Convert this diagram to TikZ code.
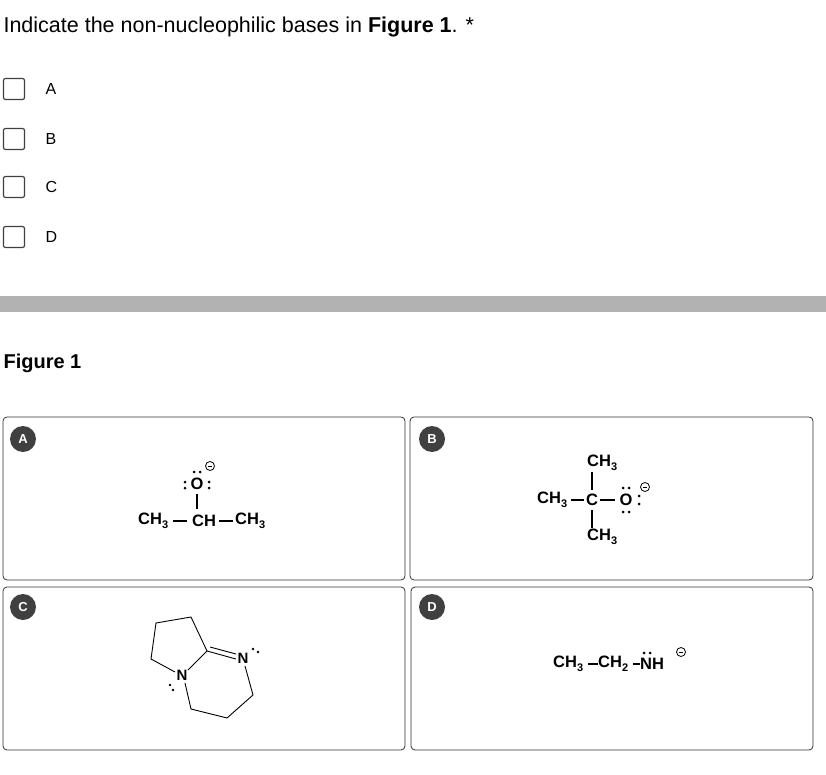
\documentclass[tikz,border=0pt]{standalone}
\usepackage{fontspec}
\setmainfont{Liberation Sans}
\usetikzlibrary{calc}
\newcommand\mysub[1]{\raisebox{-0.45ex}{\fontsize{11}{11}\selectfont #1}}
\begin{document}
\begin{tikzpicture}[x=1pt,y=-1pt,
  panel/.style={draw=black!80,line width=0.8pt,rounded corners=4pt},
  badge/.style={circle,fill=black!75,text=white,inner sep=0pt,minimum size=26pt,font=\fontsize{13}{13}\selectfont\bfseries},
  cbox/.style={draw=black!75,line width=1.2pt,rounded corners=2pt,minimum size=21pt,inner sep=0pt},
  opt/.style={font=\fontsize{16}{16}\selectfont,anchor=west},
  atm/.style={font=\fontsize{16.5}{16.5}\selectfont\bfseries,inner sep=0pt},
  bond/.style={line width=1.1pt},
  dot/.style={fill=black,circle,inner sep=0pt,minimum size=3pt},
  neg/.style={circle,draw,line width=0.8pt,minimum size=9pt,inner sep=0pt,path picture={\draw[line width=0.9pt] ($(path picture bounding box.center)+(-2.3,0)$) -- ($(path picture bounding box.center)+(2.3,0)$);}}]
\useasboundingbox (0,0) rectangle (826,775);
\node[anchor=west,font=\fontsize{21.5}{24}\selectfont] (title) at (0,27) {Indicate the non-nucleophilic bases in \textbf{Figure 1}. *};
\foreach \l/\y in {A/89,B/139,C/187,D/237}{
  \node[cbox] (cb\l) at (14,\y) {};
  \node[opt] (ol\l) at (42,\y) {\l};
}
\fill[black!30] (0,296) rectangle (826,312);
\node[anchor=west,font=\fontsize{20}{24}\selectfont\bfseries] (fig) at (0,363) {Figure 1};
\draw[panel] (3,417) rectangle (405,580);
\draw[panel] (410,417) rectangle (813,580);
\draw[panel] (3,587) rectangle (405,750);
\draw[panel] (411,587) rectangle (813,750);
\node[badge] (bA) at (23,439) {A};
\node[badge] (bB) at (432,439) {B};
\node[badge] (bC) at (23,607) {C};
\node[badge] (bD) at (432,607) {D};
% Molecule A
\node[atm,anchor=west] (a1) at (138,521) {CH\mysub{3}};
\node[atm,anchor=west] (a2) at (192,521) {CH};
\node[atm,anchor=west] (a3) at (235,521) {CH\mysub{3}};
\node[atm] (aO) at (197,484) {O};
\draw[bond] (173,521) -- (187,521); \draw[bond] (219,521) -- (233,521);
\draw[bond] (197,494) -- (197,509);
\foreach \p in {(185,482),(185,488),(209,482),(209,488),(194,472),(200,472)} \node[dot] at \p {};
\node[neg] (nA) at (210,466) {};
% Molecule B
\node[atm,anchor=west] (bT) at (587,463) {CH\mysub{3}};
\node[atm] (bCc) at (592,500) {C};
\node[atm,anchor=west] (bL) at (537,500) {CH\mysub{3}};
\node[atm] (bO) at (626,500) {O};
\node[atm,anchor=west] (bBt) at (587,537) {CH\mysub{3}};
\draw[bond] (571,500) -- (584,500); \draw[bond] (600,500) -- (615,500);
\draw[bond] (592,472) -- (592,490); \draw[bond] (592,510) -- (592,528);
\foreach \p in {(623,488),(629,488),(623,512),(629,512),(639,496),(639,504)} \node[dot] at \p {};
\node[neg] (nB) at (645,487) {};
% Molecule C
\node[atm,font=\fontsize{15}{15}\selectfont\bfseries] (n1) at (182,675) {N};
\node[atm,font=\fontsize{15}{15}\selectfont\bfseries] (n2) at (243,658) {N};
\coordinate (c1) at (207,651);
\coordinate (c2) at (191,617);
\coordinate (c3) at (156,623);
\coordinate (c4) at (151,659);
\coordinate (c5) at (191,709);
\coordinate (c6) at (227,718);
\coordinate (c7) at (253,695);
\draw[line width=0.9pt,line join=round] ($(n1)+(-7,-3)$) -- (c4) -- (c3) -- (c2) -- (c1) -- ($(n1)+(6,-5)$);
\draw[line width=0.9pt,line join=round] ($(n1)+(3,8)$) -- (c5) -- (c6) -- (c7) -- ($(n2)+(2,8)$);
\draw[line width=0.9pt] (c1) -- ($(n2)+(-7,1)$);
\draw[line width=0.9pt] ($(c1)+(3,-4)$) -- ($(n2)+(-7,-4)$);
\foreach \p in {(253,649),(258,652),(170,685),(173,690)} \node[dot,minimum size=2.6pt] at \p {};
% Molecule D
\node[atm,anchor=west] (d1) at (553,664) {CH\mysub{3}};
\node[atm,anchor=west] (d2) at (598,664) {CH\mysub{2}};
\node[atm,anchor=west] (d3) at (640,664) {NH};
\draw[bond] (588,664) -- (598,664); \draw[bond] (633,664) -- (640,664);
\node[dot] at (644,653) {}; \node[dot] at (650,653) {};
\node[neg] (nD) at (681,652) {};
\end{tikzpicture}
\end{document}
